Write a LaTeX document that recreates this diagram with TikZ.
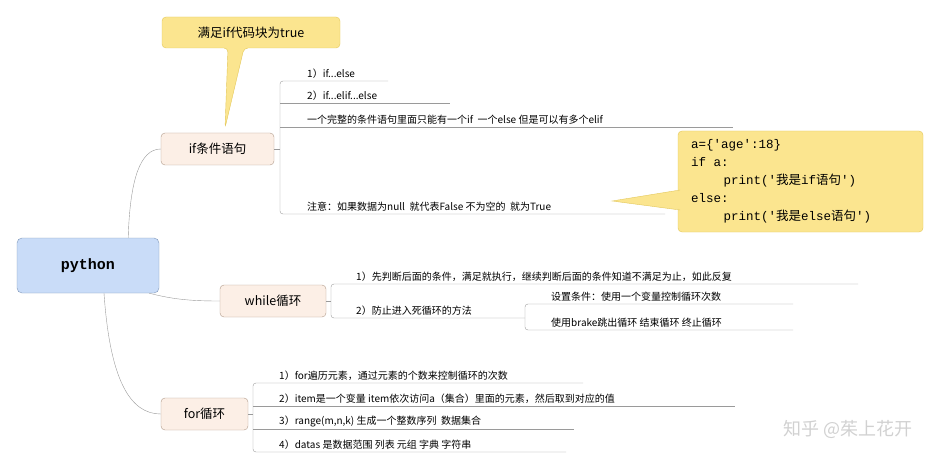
\documentclass[tikz,border=0pt]{standalone}
\usepackage{fontspec}
\setmainfont{Noto Sans CJK SC}
\setmonofont{Liberation Mono}
\usetikzlibrary{positioning}
\definecolor{rootfill}{HTML}{C9DCF8}
\definecolor{rootline}{HTML}{7F96B8}
\definecolor{topfill}{HTML}{FCEFE6}
\definecolor{topline}{HTML}{B09A8A}
\definecolor{notefill}{HTML}{FBE58F}
\definecolor{noteline}{HTML}{E3C75A}
\definecolor{branch}{HTML}{9A9A9A}
\newcommand{\zh}[1]{{\rmfamily #1}}
\tikzset{
  rootbox/.style={draw=rootline, fill=rootfill, rounded corners=5pt, minimum width=142pt, minimum height=55pt, font=\fontsize{15}{17}\selectfont\ttfamily\bfseries},
  topbox/.style={draw=topline, fill=topfill, rounded corners=4pt, minimum height=32pt, inner xsep=8pt, font=\fontsize{12.5}{14}\selectfont},
  leaf/.style={anchor=south west, inner sep=1pt, font=\fontsize{10}{12}\selectfont},
  notebox/.style={draw=noteline, fill=notefill, rounded corners=4pt},
  link/.style={draw=branch, thin},
  uline/.style={draw=branch, thin}
}
\begin{document}
\begin{tikzpicture}[x=1pt,y=-1pt]
	\useasboundingbox (0,0) rectangle (943,468);
	% Hauptknoten
	\node[rootbox] (python) at (88,265.5) {python};
	\node[topbox, minimum width=113pt] (iftopic) at (217.5,149) {if条件语句};
	\node[topbox, minimum width=106pt] (whiletopic) at (273,301) {while循环};
	\node[topbox, minimum width=87pt] (fortopic) at (204.5,414) {for循环};
	% Verbindungen
	\draw[link] (python.north east) ++(-31,0) coordinate (p1) .. controls (130,180) and (140,149) .. (iftopic.west);
	\draw[link] (python.south east) ++(-10,0) coordinate (p2) .. controls (175,300) and (195,301) .. (whiletopic.west);
	\draw[link] (python.south) ++(16,0) coordinate (p3) .. controls (110,380) and (130,414) .. (fortopic.west);

	% if Zweige
	\coordinate (ifa) at (280,81);
	\coordinate (ifb) at (280,214);
	\draw[link] (iftopic.east) -- (280,149);
	\draw[link, rounded corners=3pt] (388,81) -- (ifa) -- (ifb) -- (665,214);
	\draw[uline] (280,103) -- (450,103);
	\draw[uline] (280,127) -- (733,127);
	\node[leaf] (if1) at (306,80) {1）if...else};
	\node[leaf] (if2) at (306,102) {2）if...elif...else};
	\node[leaf] (if3) at (306,126) {一个完整的条件语句里面只能有一个if\ \ 一个else 但是可以有多个elif};
	\node[leaf] (if4) at (306,213) {注意：如果数据为null\ \ 就代表False 不为空的\ \ 就为True};
	% Hinweise
	\filldraw[notebox] (162,17) -- (340,17) -- (340,48) -- (244,48) -- (225,128) -- (228,48) -- (162,48) -- cycle;
	\node[font=\fontsize{12.5}{14}\selectfont] (tipif) at (251,32.5) {满足if代码块为true};
	\filldraw[notebox] (678,131) rectangle (923,232);
	\filldraw[notebox, draw=none] (680,190) -- (612,201) -- (680,210) -- cycle;
	\draw[noteline] (680,190) -- (612,201) -- (680,210);
	\node[anchor=north west, align=left, inner sep=0pt, font=\ttfamily\fontsize{12.5}{18}\selectfont] (code) at (691,139)
		{a=\{'age':18\}\\if a:\\\hspace*{2.6em}print('\zh{我是}if\zh{语句}')\\else:\\\hspace*{2.6em}print('\zh{我是}else\zh{语句}')};

	% while Zweige
	\draw[link] (whiletopic.east) -- (331,301);
	\draw[link, rounded corners=3pt] (858,284) -- (331,284) -- (331,318) -- (525,318);
	\node[leaf] (wh1) at (355,283) {1）先判断后面的条件，满足就执行，继续判断后面的条件知道不满足为止，如此反复};
	\node[leaf] (wh2) at (355,317) {2）防止进入死循环的方法};
	\draw[link, rounded corners=3pt] (793,304) -- (525,304) -- (525,330) -- (793,330);
	\node[leaf] (wh21) at (550,303) {设置条件：使用一个变量控制循环次数};
	\node[leaf] (wh22) at (550,329) {使用brake跳出循环 结束循环 终止循环};

	% for Zweige
	\draw[link] (fortopic.east) -- (253,414);
	\draw[link, rounded corners=3pt] (583,383) -- (253,383) -- (253,452) -- (566,452);
	\draw[uline] (253,406) -- (735,406);
	\draw[uline] (253,429) -- (574,429);
	\node[leaf] (for1) at (278,382) {1）for遍历元素，通过元素的个数来控制循环的次数};
	\node[leaf] (for2) at (278,405) {2）item是一个变量 item依次访问a（集合）里面的元素，然后取到对应的值};
	\node[leaf] (for3) at (278,428) {3）range(m,n,k) 生成一个整数序列\ \ 数据集合};
	\node[leaf] (for4) at (278,451) {4）datas 是数据范围 列表 元组 字典 字符串};

	\node[text=black!18, font=\fontsize{18}{20}\selectfont] (mark) at (848,429) {知乎 @茱上花开};
\end{tikzpicture}
\end{document}
